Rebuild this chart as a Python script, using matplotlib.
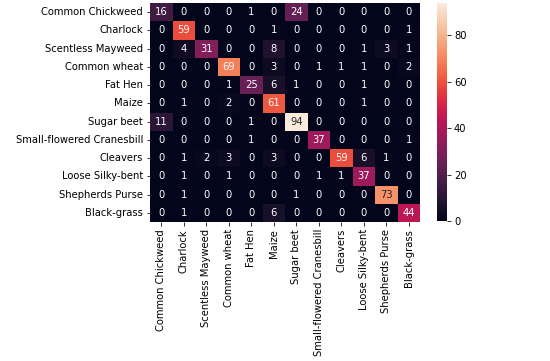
import matplotlib
matplotlib.use('Agg')
import matplotlib.pyplot as plt
import numpy as np
import seaborn as sns

# class names
labels = ['Common Chickweed', 'Charlock', 'Scentless Mayweed', 'Common wheat',
          'Fat Hen', 'Maize', 'Sugar beet', 'Small-flowered Cranesbill',
          'Cleavers', 'Loose Silky-bent', 'Shepherds Purse', 'Black-grass']

# confusion matrix rows (true) x cols (predicted)
row_chickweed = [16, 0, 0, 0, 1, 0, 24, 0, 0, 0, 0, 0]
row_charlock = [0, 59, 0, 0, 0, 1, 0, 0, 0, 0, 0, 1]
row_mayweed = [0, 4, 31, 0, 0, 8, 0, 0, 0, 1, 3, 1]
row_wheat = [0, 0, 0, 69, 0, 3, 0, 1, 1, 1, 0, 2]
row_fathen = [0, 0, 0, 1, 25, 6, 1, 0, 0, 1, 0, 0]
row_maize = [0, 1, 0, 2, 0, 61, 0, 0, 0, 1, 0, 0]
row_sugarbeet = [11, 0, 0, 0, 1, 0, 94, 0, 0, 0, 0, 0]
row_cranesbill = [0, 0, 0, 0, 1, 0, 0, 37, 0, 0, 0, 1]
row_cleavers = [0, 1, 2, 3, 0, 3, 0, 0, 59, 6, 1, 0]
row_silkybent = [0, 1, 0, 1, 0, 0, 0, 1, 1, 37, 0, 0]
row_shepherds = [0, 1, 0, 0, 0, 0, 1, 0, 0, 0, 73, 0]
row_blackgrass = [0, 1, 0, 0, 0, 6, 0, 0, 0, 0, 0, 44]

cm = np.array([row_chickweed, row_charlock, row_mayweed, row_wheat, row_fathen,
               row_maize, row_sugarbeet, row_cranesbill, row_cleavers,
               row_silkybent, row_shepherds, row_blackgrass])

# notebook-style output at 72 dpi
W, H = 550, 361
fig = plt.figure(figsize=(W / 72, H / 72), dpi=72)
ax = fig.add_axes([150 / W, 1 - 222 / H, 270 / W, 219 / H])
cax = fig.add_axes([437 / W, 1 - 221 / H, 10 / W, 218 / H])

sns.heatmap(cm, annot=True, fmt='d', ax=ax, cbar_ax=cax,
            xticklabels=labels, yticklabels=labels)
ax.set_xticklabels(labels, rotation=90)
ax.set_yticklabels(labels, rotation=0)

fig.savefig('out.png', dpi=72)
